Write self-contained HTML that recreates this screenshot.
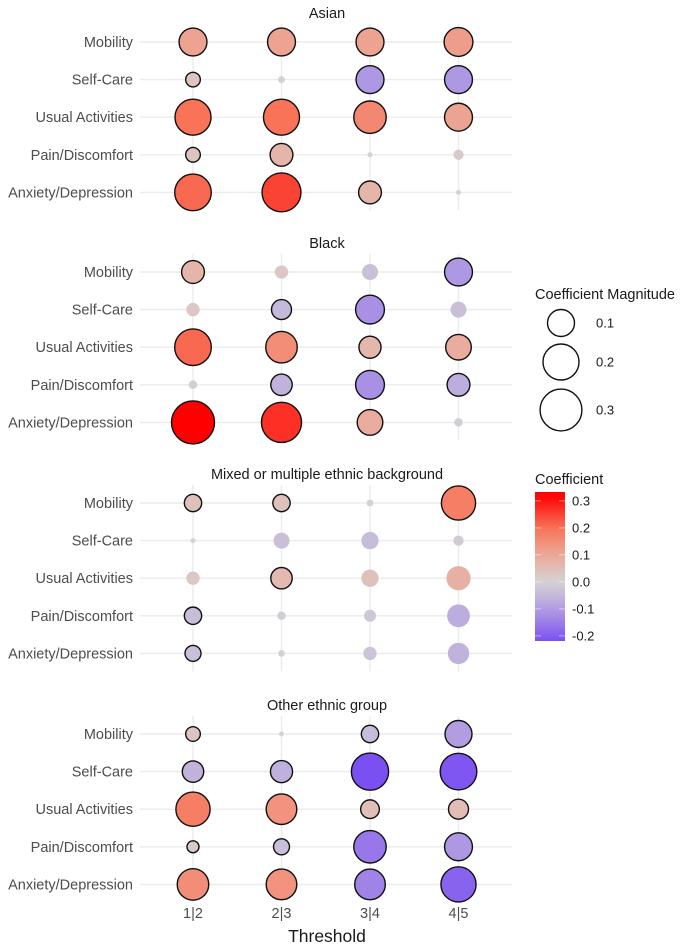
<!DOCTYPE html>
<html><head><meta charset="utf-8">
<style>
body{margin:0;background:#fff;}
svg{display:block;font-family:"Liberation Sans",sans-serif;}
</style></head>
<body>
<svg id="chart" width="685" height="945" viewBox="0 0 685 945" xmlns="http://www.w3.org/2000/svg"></svg>
<script>
const thresholds = ["1|2","2|3","3|4","4|5"];
const outcomes = ["Mobility","Self-Care","Usual Activities","Pain/Discomfort","Anxiety/Depression"];
const groups = ["Asian","Black","Mixed or multiple ethnic background","Other ethnic group"];
// coefficients [group][outcome][threshold]
const coefAsian = [[0.11,0.11,0.11,0.12],[0.03,0.005,-0.11,-0.11],[0.2,0.2,0.16,0.11],[0.03,0.07,0.0,0.015],[0.21,0.25,0.07,0.0]];
const coefBlack = [[0.07,0.025,-0.035,-0.11],[0.025,-0.05,-0.12,-0.035],[0.21,0.15,0.065,0.09],[0.01,-0.06,-0.12,-0.07],[0.32,0.27,0.09,-0.01]];
const coefMixed = [[0.04,0.04,0.005,0.18],[0.0,-0.035,-0.04,-0.015],[0.025,0.06,0.04,0.08],[-0.04,-0.01,-0.02,-0.07],[-0.035,0.005,-0.025,-0.06]];
const coefOther = [[0.03,0.0,-0.04,-0.1],[-0.06,-0.065,-0.22,-0.21],[0.18,0.14,0.045,0.05],[0.02,-0.035,-0.16,-0.11],[0.15,0.14,-0.14,-0.19]];
// significance (outlined) flags
const sigAsian = [[1,1,1,1],[1,0,1,1],[1,1,1,1],[1,1,0,0],[1,1,1,0]];
const sigBlack = [[1,0,0,1],[0,1,1,0],[1,1,1,1],[0,1,1,1],[1,1,1,0]];
const sigMixed = [[1,1,0,1],[0,0,0,0],[0,1,0,0],[1,0,0,0],[1,0,0,0]];
const sigOther = [[1,0,1,1],[1,1,1,1],[1,1,1,1],[1,1,1,1],[1,1,1,1]];
const legendSizes = [0.1,0.2,0.3];
const colorTicks = [0.3,0.2,0.1,0.0,-0.1,-0.2];

const coefs=[coefAsian,coefBlack,coefMixed,coefOther];
const sigs=[sigAsian,sigBlack,sigMixed,sigOther];
const NS="http://www.w3.org/2000/svg";
const svg=document.getElementById('chart');
function mk(tag,attrs,parent){const e=document.createElementNS(NS,tag);for(const k in attrs)e.setAttribute(k,attrs[k]);(parent||svg).appendChild(e);return e;}

const xCol=i=>193+i*88.5;
const panelTop=[42,272,503,734];
const rowY=(p,j)=>panelTop[p]+j*37.6;
const rStops=[[0,2.5],[0.02,6],[0.05,10],[0.1,13.5],[0.2,18],[0.32,21.5]];
function rad(v){v=Math.abs(v);for(let i=1;i<rStops.length;i++){if(v<=rStops[i][0]){const a=rStops[i-1],b=rStops[i];return a[1]+(v-a[0])/(b[0]-a[0])*(b[1]-a[1]);}}return 21.5;}
const cStops=[[-0.22,[122,80,242]],[-0.1,[179,157,226]],[0,[213,210,211]],[0.1,[236,168,152]],[0.2,[248,115,88]],[0.32,[255,0,0]]];
function col(v){if(v<=cStops[0][0])return 'rgb('+cStops[0][1]+')';for(let i=1;i<cStops.length;i++){if(v<=cStops[i][0]){const a=cStops[i-1],b=cStops[i],t=(v-a[0])/(b[0]-a[0]);return 'rgb('+a[1].map((c,k)=>Math.round(c+t*(b[1][k]-c))).join(',')+')';}}return 'rgb(255,0,0)';}

groups.forEach((g,p)=>{
  const grp=mk('g',{});
  
  
  const top=rowY(p,0)-18,bot=rowY(p,4)+18;
  thresholds.forEach((t,i)=>{const l=mk('line',{x1:xCol(i),x2:xCol(i),y1:top,y2:bot,stroke:'#ebebeb','stroke-width':1.4},grp);
    });
  outcomes.forEach((o,j)=>{const l=mk('line',{x1:140,x2:512,y1:rowY(p,j),y2:rowY(p,j),stroke:'#ebebeb','stroke-width':1.4},grp);
    
    const tx=mk('text',{x:133,y:rowY(p,j)+5,'text-anchor':'end','font-size':14.5,fill:'#4d4d4d'},grp);tx.textContent=o;
    });
  const tt=mk('text',{x:327,y:top-6,'text-anchor':'middle','font-size':14.5,fill:'#1a1a1a'},grp);tt.textContent=g;
  
  outcomes.forEach((o,j)=>thresholds.forEach((t,i)=>{
    const v=coefs[p][j][i],s=sigs[p][j][i];
    const c=mk('circle',{cx:xCol(i),cy:rowY(p,j),r:rad(v),fill:col(v),stroke:s?'#111':'none','stroke-width':1.4},grp);
    
  }));
});
thresholds.forEach((t,i)=>{const tx=mk('text',{x:xCol(i),y:918,'text-anchor':'middle','font-size':14.5,fill:'#4d4d4d'});tx.textContent=t;
  });
const xt=mk('text',{x:327,y:942,'text-anchor':'middle','font-size':17.5,fill:'#1a1a1a'});xt.textContent='Threshold';


// size legend
const lg=mk('g',{});
const lt=mk('text',{x:535,y:299,'font-size':14.5,fill:'#1a1a1a'},lg);lt.textContent='Coefficient Magnitude';

const lgY=[323,362,410];
legendSizes.forEach((v,k)=>{const c=mk('circle',{cx:561,cy:lgY[k],r:rad(v),fill:'none',stroke:'#111','stroke-width':1.4},lg);
  
  const tx=mk('text',{x:596,y:lgY[k]+4.5,'font-size':13,fill:'#1a1a1a'},lg);tx.textContent=v.toFixed(1);
  });

// colorbar
const cg=mk('g',{});
const ct=mk('text',{x:535,y:484,'font-size':14.5,fill:'#1a1a1a'},cg);ct.textContent='Coefficient';

const cbTop=492,cbBot=641,vTop=0.333,vBot=-0.219;
const cy=v=>cbTop+(vTop-v)/(vTop-vBot)*(cbBot-cbTop);
const defs=mk('defs',{});const gr=mk('linearGradient',{id:'cg',x1:0,y1:0,x2:0,y2:1},defs);
for(let k=0;k<=20;k++){const v=vTop-(vTop-vBot)*k/20;mk('stop',{offset:(k/20),'stop-color':col(v)},gr);}
const rb=mk('rect',{x:535,y:cbTop,width:30,height:cbBot-cbTop,fill:'url(#cg)'},cg);

colorTicks.forEach(v=>{const y=cy(v);
  mk('line',{x1:535,x2:541,y1:y,y2:y,stroke:'#fff','stroke-width':0.8,opacity:0.6},cg);
  mk('line',{x1:559,x2:565,y1:y,y2:y,stroke:'#fff','stroke-width':0.8,opacity:0.6},cg);
  const tx=mk('text',{x:572,y:y+4.5,'font-size':13,fill:'#1a1a1a'},cg);tx.textContent=v.toFixed(1);
  });
</script>
</body></html>
